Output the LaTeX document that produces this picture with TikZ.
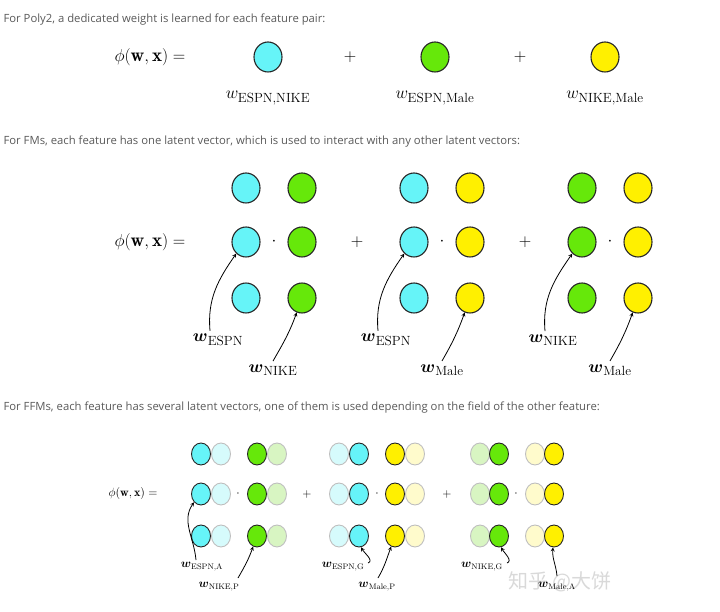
\documentclass[tikz,border=0pt]{standalone}
\usepackage{fontspec}
\usepackage{amsmath}
\newfontfamily\uisans{Open Sans}
\newfontfamily\cjk{Noto Sans CJK SC}
\usetikzlibrary{shapes.geometric}
\definecolor{cy}{HTML}{66F4F8}
\definecolor{gr}{HTML}{66E80A}
\definecolor{ye}{HTML}{FFF000}
\definecolor{cyl}{HTML}{D6FBFC}
\definecolor{grl}{HTML}{D8F5C2}
\definecolor{yel}{HTML}{FFFBCC}
\begin{document}
\begin{tikzpicture}[x=1pt,y=-1pt,
  captxt/.style={anchor=west,font=\uisans\fontsize{11.3}{13}\selectfont,text=black!65},
  big/.style={ellipse,draw=black!85,line width=1.1pt,minimum width=28pt,minimum height=30pt,inner sep=0},
  sm/.style={ellipse,draw=black!85,line width=0.9pt,minimum width=19pt,minimum height=22pt,inner sep=0},
  lt/.style={draw=black!25},
  mb/.style={font=\fontsize{19}{22}\selectfont},
  ms/.style={font=\fontsize{12}{14}\selectfont},
  arr/.style={->,line width=0.8pt,>=stealth}]
\useasboundingbox (0,0) rectangle (720,612);
% captions
\node[captxt] (t1) at (0,20) {For Poly2, a dedicated weight is learned for each feature pair:};
\node[captxt] (t2) at (0,142) {For FMs, each feature has one latent vector, which is used to interact with any other latent vectors:};
\node[captxt] (t3) at (0,408) {For FFMs, each feature has several latent vectors, one of them is used depending on the field of the other feature:};
% Poly2
\node[mb] (p0) at (150,57) {$\phi(\mathbf{w},\mathbf{x})=$};
\node[big,fill=cy] (p1) at (268,57) {};
\node[mb] (pp1) at (350,57) {$+$};
\node[big,fill=gr] (p2) at (435,57) {};
\node[mb] (pp2) at (520,57) {$+$};
\node[big,fill=ye] (p3) at (605,57) {};
\node[mb] (l1) at (268,98) {$w_{\text{ESPN,NIKE}}$};
\node[mb] (l2) at (435,98) {$w_{\text{ESPN,Male}}$};
\node[mb] (l3) at (605,98) {$w_{\text{NIKE,Male}}$};
% FM
\node[mb] (f0) at (150,242) {$\phi(\mathbf{w},\mathbf{x})=$};
\foreach \r/\y in {1/188,2/242,3/298}{
  \node[big,fill=cy] (fa\r) at (246,\y) {};
  \node[big,fill=gr] (fb\r) at (302,\y) {};
  \node[big,fill=cy] (fc\r) at (414,\y) {};
  \node[big,fill=ye] (fd\r) at (470,\y) {};
  \node[big,fill=gr] (fe\r) at (582,\y) {};
  \node[big,fill=ye] (ff\r) at (638,\y) {};
}
\node[mb] (fd1x) at (274,242) {$\cdot$};
\node[mb] (fd2x) at (442,242) {$\cdot$};
\node[mb] (fd3x) at (610,242) {$\cdot$};
\node[mb] (fp1) at (357,242) {$+$};
\node[mb] (fp2) at (525,242) {$+$};
\node[mb] (fl1) at (218,340) {$\boldsymbol{w}_{\text{ESPN}}$};
\node[mb] (fl2) at (273,370) {$\boldsymbol{w}_{\text{NIKE}}$};
\node[mb] (fl3) at (386,340) {$\boldsymbol{w}_{\text{ESPN}}$};
\node[mb] (fl4) at (442,370) {$\boldsymbol{w}_{\text{Male}}$};
\node[mb] (fl5) at (553,340) {$\boldsymbol{w}_{\text{NIKE}}$};
\node[mb] (fl6) at (610,370) {$\boldsymbol{w}_{\text{Male}}$};
\draw[arr] ([xshift=-8pt]fl1.north) to[out=95,in=235] (fa2.230);
\draw[arr] (fl2.north) to[out=60,in=250] (fb3.250);
\draw[arr] ([xshift=-8pt]fl3.north) to[out=95,in=235] (fc2.230);
\draw[arr] (fl4.north) to[out=60,in=250] (fd3.250);
\draw[arr] ([xshift=-8pt]fl5.north) to[out=95,in=235] (fe2.230);
\draw[arr] (fl6.north) to[out=60,in=250] (ff3.250);
% FFM
\node[ms] (g0) at (133,493) {$\phi(\mathbf{w},\mathbf{x})=$};
\foreach \r/\y in {1/454,2/494,3/536}{
  \node[sm,fill=cy] (ga\r) at (201,\y) {};
  \node[sm,lt,fill=cyl] (gb\r) at (221,\y) {};
  \node[sm,fill=gr] (gc\r) at (257,\y) {};
  \node[sm,lt,fill=grl] (gd\r) at (277,\y) {};
  \node[sm,lt,fill=cyl] (ge\r) at (339,\y) {};
  \node[sm,fill=cy] (gf\r) at (359,\y) {};
  \node[sm,fill=ye] (gg\r) at (395,\y) {};
  \node[sm,lt,fill=yel] (gh\r) at (415,\y) {};
  \node[sm,lt,fill=grl] (gi\r) at (480,\y) {};
  \node[sm,fill=gr] (gj\r) at (499,\y) {};
  \node[sm,lt,fill=yel] (gk\r) at (535,\y) {};
  \node[sm,fill=ye] (gl\r) at (554,\y) {};
}
\node[ms] (gx1) at (238,494) {$\cdot$};
\node[ms] (gx2) at (377,494) {$\cdot$};
\node[ms] (gx3) at (516,494) {$\cdot$};
\node[ms] (gp1) at (307,494) {$+$};
\node[ms] (gp2) at (447,494) {$+$};
\node[font=\cjk\fontsize{20}{22}\selectfont,text=black!15] (wm) at (560,582) {知乎 @大饼};
\node[ms] (gq1) at (202,567) {$\boldsymbol{w}_{\text{ESPN,A}}$};
\node[ms] (gq2) at (219,587) {$\boldsymbol{w}_{\text{NIKE,P}}$};
\node[ms] (gq3) at (343,567) {$\boldsymbol{w}_{\text{ESPN,G}}$};
\node[ms] (gq4) at (377,587) {$\boldsymbol{w}_{\text{Male,P}}$};
\node[ms] (gq5) at (482,567) {$\boldsymbol{w}_{\text{NIKE,G}}$};
\node[ms] (gq6) at (557,587) {$\boldsymbol{w}_{\text{Male,A}}$};
\coordinate (s1) at (196,560);
\coordinate (s2) at (238,578);
\coordinate (s3) at (368,563);
\coordinate (s4) at (378,578);
\coordinate (s5) at (507,563);
\coordinate (s6) at (557,576);
\draw[arr] (s1) to[out=95,in=235] (ga2.230);
\draw[arr] (s2) to[out=60,in=250] (gc3.250);
\draw[arr] (s3) to[out=20,in=300] (gf3.280);
\draw[arr] (s4) to[out=60,in=250] (gg3.250);
\draw[arr] (s5) to[out=20,in=300] (gj3.280);
\draw[arr] (s6) to[out=95,in=265] (gl3.265);
\end{tikzpicture}
\end{document}
